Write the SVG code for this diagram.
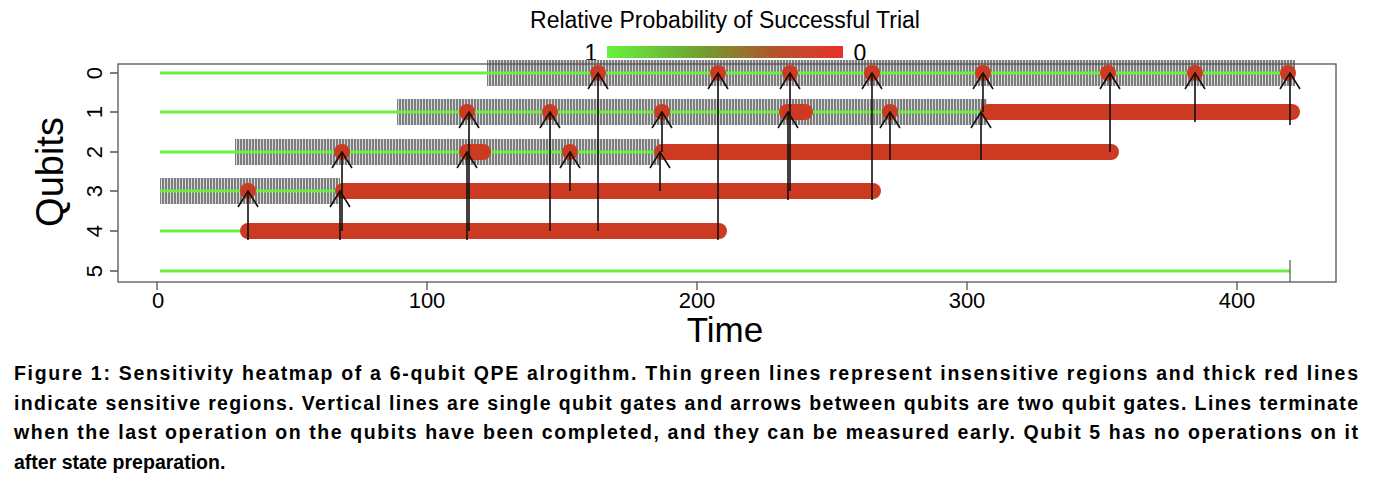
<svg xmlns="http://www.w3.org/2000/svg" width="1374" height="488" viewBox="0 0 1374 488">
<defs>
<linearGradient id="g" x1="0" x2="1"><stop offset="0" stop-color="#66f23f"/><stop offset="0.4" stop-color="#6fa030"/><stop offset="0.7" stop-color="#b0562a"/><stop offset="1" stop-color="#e8302a"/></linearGradient>
<pattern id="h" width="3" height="30" patternUnits="userSpaceOnUse"><rect width="3" height="30" fill="#d8d8d8"/><line x1="1" y1="0" x2="1" y2="30" stroke="#222" stroke-width="1"/></pattern>
<marker id="a" viewBox="0 0 18 22" refX="17" refY="11" markerWidth="18" markerHeight="22" markerUnits="userSpaceOnUse" orient="auto"><path d="M1,1 L17,11 L1,21" fill="none" stroke="#111" stroke-width="1.6"/></marker>
</defs>
<style>
text{font-family:"Liberation Sans",Arial,sans-serif;fill:#000}
.gr{stroke:#66f23f;stroke-width:3}
.rd{stroke:#cc3a22;stroke-width:16;stroke-linecap:round}
.ar{stroke:#111;stroke-width:1.6;marker-end:url(#a)}
.dot{fill:#cc3a22}
.cap{font-weight:bold;font-size:19.5px}
</style>
<rect width="1374" height="488" fill="#fff"/>
<text x="725" y="28" font-size="23" text-anchor="middle">Relative Probability of Successful Trial</text>
<text x="591" y="61" font-size="23" text-anchor="middle">1</text>
<rect x="607" y="46" width="236" height="12" fill="url(#g)"/>
<text x="860" y="61" font-size="23" text-anchor="middle">0</text>
<g id="hatch">
<rect x="487" y="60" width="808" height="26" fill="url(#h)"/>
<rect x="397" y="99" width="590" height="26" fill="url(#h)"/>
<rect x="235" y="139" width="425" height="26" fill="url(#h)"/>
<rect x="160" y="178" width="180" height="26" fill="url(#h)"/>
</g>
<g id="lines">
<line class="gr" x1="160" y1="73" x2="1290" y2="73"/>
<line class="gr" x1="160" y1="112" x2="985" y2="112"/>
<line class="gr" x1="160" y1="152" x2="660" y2="152"/>
<line class="gr" x1="160" y1="191" x2="340" y2="191"/>
<line class="gr" x1="160" y1="231" x2="245" y2="231"/>
<line class="gr" x1="160" y1="271" x2="1290" y2="271"/>
<line x1="1290" y1="260" x2="1290" y2="282" stroke="#333" stroke-width="1"/>
<line class="rd" x1="988" y1="112" x2="1292" y2="112"/>
<line class="rd" x1="787" y1="112" x2="805" y2="112"/>
<line class="rd" x1="662" y1="152" x2="1111" y2="152"/>
<line class="rd" x1="467" y1="152" x2="483" y2="152"/>
<line class="rd" x1="343" y1="191" x2="873" y2="191"/>
<line class="rd" x1="248" y1="231" x2="719" y2="231"/>
</g>
<g id="dots">
<circle class="dot" cx="248" cy="191" r="8"/><circle class="dot" cx="342" cy="152" r="8"/>
<circle class="dot" cx="467" cy="112" r="8"/><circle class="dot" cx="550" cy="112" r="8"/>
<circle class="dot" cx="570" cy="152" r="8"/><circle class="dot" cx="598" cy="73" r="8"/>
<circle class="dot" cx="662" cy="112" r="8"/><circle class="dot" cx="718" cy="73" r="8"/>
<circle class="dot" cx="790" cy="73" r="8"/><circle class="dot" cx="872" cy="73" r="8"/>
<circle class="dot" cx="890" cy="112" r="8"/><circle class="dot" cx="983" cy="73" r="8"/>
<circle class="dot" cx="1108" cy="73" r="8"/><circle class="dot" cx="1195" cy="73" r="8"/>
<circle class="dot" cx="1288" cy="73" r="8"/>
</g>
<g id="connectors">
<line class="ar" x1="248" y1="240" x2="248" y2="191"/>
<line class="ar" x1="340" y1="240" x2="340" y2="191"/>
<line class="ar" x1="342" y1="231" x2="342" y2="152"/>
<line class="ar" x1="467" y1="240" x2="467" y2="152"/>
<line class="ar" x1="469" y1="231" x2="469" y2="112"/>
<line class="ar" x1="550" y1="231" x2="550" y2="112"/>
<line class="ar" x1="570" y1="191" x2="570" y2="152"/>
<line class="ar" x1="598" y1="231" x2="598" y2="73"/>
<line class="ar" x1="660" y1="191" x2="660" y2="152"/>
<line class="ar" x1="662" y1="152" x2="662" y2="112"/>
<line class="ar" x1="718" y1="240" x2="718" y2="73"/>
<line class="ar" x1="788" y1="200" x2="788" y2="112"/>
<line class="ar" x1="790" y1="191" x2="790" y2="73"/>
<line class="ar" x1="872" y1="200" x2="872" y2="73"/>
<line class="ar" x1="890" y1="160" x2="890" y2="112"/>
<line class="ar" x1="981" y1="160" x2="981" y2="112"/>
<line class="ar" x1="983" y1="112" x2="983" y2="73"/>
<line class="ar" x1="1110" y1="152" x2="1110" y2="73"/>
<line class="ar" x1="1195" y1="122" x2="1195" y2="73"/>
<line class="ar" x1="1290" y1="125" x2="1290" y2="73"/>
</g>
<g id="axes" stroke="#555" stroke-width="1.3" fill="none">
<rect x="118" y="64" width="1218" height="218"/>
<path d="M157,282v8M427,282v8M697,282v8M967,282v8M1237,282v8"/>
<path d="M118,73h-8M118,112h-8M118,152h-8M118,191h-8M118,231h-8M118,271h-8"/>
</g>
<g font-size="22">
<text x="158" y="308" text-anchor="middle">0</text>
<text x="427" y="308" text-anchor="middle">100</text>
<text x="697" y="308" text-anchor="middle">200</text>
<text x="967" y="308" text-anchor="middle">300</text>
<text x="1237" y="308" text-anchor="middle">400</text>
<text transform="translate(102,73) rotate(-90)" text-anchor="middle">0</text>
<text transform="translate(102,112) rotate(-90)" text-anchor="middle">1</text>
<text transform="translate(102,152) rotate(-90)" text-anchor="middle">2</text>
<text transform="translate(102,191) rotate(-90)" text-anchor="middle">3</text>
<text transform="translate(102,231) rotate(-90)" text-anchor="middle">4</text>
<text transform="translate(102,271) rotate(-90)" text-anchor="middle">5</text>
</g>
<text x="725" y="342" font-size="35" text-anchor="middle">Time</text>
<text transform="translate(63,172) rotate(-90)" font-size="38" text-anchor="middle">Qubits</text>
<text class="cap" x="14" y="380" textLength="1344" lengthAdjust="spacing">Figure 1:  Sensitivity heatmap of a 6-qubit QPE alrogithm.  Thin green lines represent insensitive regions and thick red lines</text>
<text class="cap" x="14" y="410" textLength="1344" lengthAdjust="spacing">indicate sensitive regions. Vertical lines are single qubit gates and arrows between qubits are two qubit gates. Lines terminate</text>
<text class="cap" x="14" y="439" textLength="1344" lengthAdjust="spacing">when the last operation on the qubits have been completed, and they can be measured early.  Qubit 5 has no operations on it</text>
<text class="cap" x="14" y="469">after state preparation.</text>
</svg>
